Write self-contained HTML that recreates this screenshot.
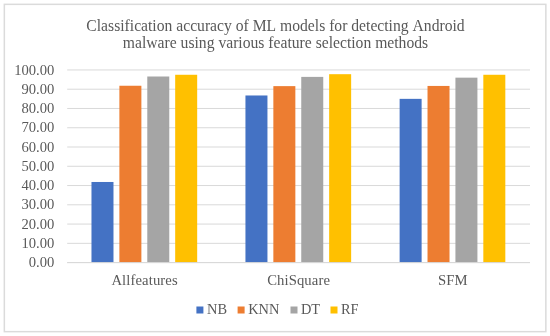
<!DOCTYPE html>
<html><head><meta charset="utf-8"><title>Chart</title>
<style>html,body{margin:0;padding:0;background:#fff;}body{width:550px;height:336px;overflow:hidden;}svg{display:block;}text{font-family:"Liberation Serif","Times New Roman",serif;fill:#595959;font-variant-ligatures:none;font-kerning:none;}</style></head><body>
<svg width="550" height="336" viewBox="0 0 550 336">
<rect x="0" y="0" width="550" height="336" fill="#fff"/>
<rect x="4.35" y="4.35" width="541.5" height="327.3" fill="#fff" stroke="#dbdbdb" stroke-width="1.5"/>
<line x1="67.2" y1="262.60" x2="530.0" y2="262.60" stroke="#d9d9d9" stroke-width="1"/>
<line x1="67.2" y1="243.34" x2="530.0" y2="243.34" stroke="#d9d9d9" stroke-width="1"/>
<line x1="67.2" y1="224.07" x2="530.0" y2="224.07" stroke="#d9d9d9" stroke-width="1"/>
<line x1="67.2" y1="204.81" x2="530.0" y2="204.81" stroke="#d9d9d9" stroke-width="1"/>
<line x1="67.2" y1="185.54" x2="530.0" y2="185.54" stroke="#d9d9d9" stroke-width="1"/>
<line x1="67.2" y1="166.28" x2="530.0" y2="166.28" stroke="#d9d9d9" stroke-width="1"/>
<line x1="67.2" y1="147.01" x2="530.0" y2="147.01" stroke="#d9d9d9" stroke-width="1"/>
<line x1="67.2" y1="127.75" x2="530.0" y2="127.75" stroke="#d9d9d9" stroke-width="1"/>
<line x1="67.2" y1="108.48" x2="530.0" y2="108.48" stroke="#d9d9d9" stroke-width="1"/>
<line x1="67.2" y1="89.21" x2="530.0" y2="89.21" stroke="#d9d9d9" stroke-width="1"/>
<line x1="67.2" y1="69.95" x2="530.0" y2="69.95" stroke="#d9d9d9" stroke-width="1"/>
<rect x="91.48" y="181.98" width="22.00" height="80.62" fill="#4472c4"/>
<rect x="119.38" y="85.75" width="22.00" height="176.85" fill="#ed7d31"/>
<rect x="147.28" y="76.50" width="22.00" height="186.10" fill="#a5a5a5"/>
<rect x="175.18" y="74.77" width="22.00" height="187.83" fill="#ffc000"/>
<text x="144.6" y="284.6" font-size="14.7" letter-spacing="0.1" text-anchor="middle">Allfeatures</text>
<rect x="245.45" y="95.48" width="22.00" height="167.12" fill="#4472c4"/>
<rect x="273.35" y="86.13" width="22.00" height="176.47" fill="#ed7d31"/>
<rect x="301.25" y="76.89" width="22.00" height="185.71" fill="#a5a5a5"/>
<rect x="329.15" y="74.19" width="22.00" height="188.41" fill="#ffc000"/>
<text x="298.6" y="284.6" font-size="14.7" letter-spacing="0.1" text-anchor="middle">ChiSquare</text>
<rect x="399.62" y="98.85" width="22.00" height="163.75" fill="#4472c4"/>
<rect x="427.52" y="85.94" width="22.00" height="176.66" fill="#ed7d31"/>
<rect x="455.42" y="77.66" width="22.00" height="184.94" fill="#a5a5a5"/>
<rect x="483.32" y="74.77" width="22.00" height="187.83" fill="#ffc000"/>
<text x="452.8" y="284.6" font-size="14.7" letter-spacing="0.1" text-anchor="middle">SFM</text>
<line x1="67.2" y1="262.60" x2="530.0" y2="262.60" stroke="#d9d9d9" stroke-width="1"/>
<text x="54.3" y="267.15" font-size="14.6" text-anchor="end">0.00</text>
<text x="54.3" y="247.89" font-size="14.6" text-anchor="end">10.00</text>
<text x="54.3" y="228.62" font-size="14.6" text-anchor="end">20.00</text>
<text x="54.3" y="209.36" font-size="14.6" text-anchor="end">30.00</text>
<text x="54.3" y="190.09" font-size="14.6" text-anchor="end">40.00</text>
<text x="54.3" y="170.83" font-size="14.6" text-anchor="end">50.00</text>
<text x="54.3" y="151.56" font-size="14.6" text-anchor="end">60.00</text>
<text x="54.3" y="132.30" font-size="14.6" text-anchor="end">70.00</text>
<text x="54.3" y="113.03" font-size="14.6" text-anchor="end">80.00</text>
<text x="54.3" y="93.76" font-size="14.6" text-anchor="end">90.00</text>
<text x="54.3" y="74.50" font-size="14.6" text-anchor="end">100.00</text>
<text x="275.5" y="30.6" font-size="15.65" text-anchor="middle">Classification accuracy of ML models for detecting Android</text>
<text x="275.5" y="47.9" font-size="15.65" text-anchor="middle">malware using various feature selection methods</text>
<rect x="196.4" y="306.5" width="7" height="7" fill="#4472c4"/>
<text x="207.0" y="314.3" font-size="14.4">NB</text>
<rect x="237.6" y="306.5" width="7" height="7" fill="#ed7d31"/>
<text x="248.2" y="314.3" font-size="14.4">KNN</text>
<rect x="290.5" y="306.5" width="7" height="7" fill="#a5a5a5"/>
<text x="300.9" y="314.3" font-size="14.4">DT</text>
<rect x="330.5" y="306.5" width="7" height="7" fill="#ffc000"/>
<text x="341.0" y="314.3" font-size="14.4">RF</text>
</svg></body></html>
